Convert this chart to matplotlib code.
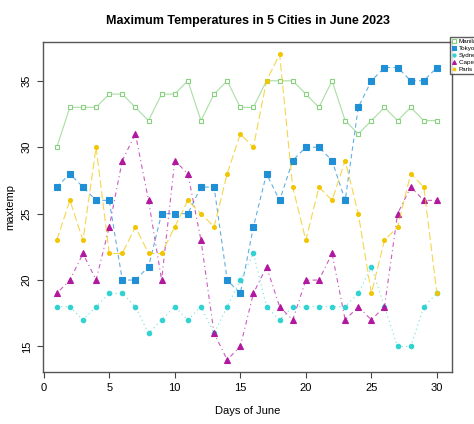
import numpy as np
import matplotlib
matplotlib.use('Agg')
import matplotlib.pyplot as plt

plt.rcParams['font.family'] = ['Liberation Sans', 'DejaVu Sans']

# data
days = list(range(1, 31))
manila = [30, 33, 33, 33, 34, 34, 33, 32, 34, 34, 35, 32, 34, 35, 33,
          33, 35, 35, 35, 34, 33, 35, 32, 31, 32, 33, 32, 33, 32, 32]
tokyo = [27, 28, 27, 26, 26, 20, 20, 21, 25, 25, 25, 27, 27, 20, 19,
         24, 28, 26, 29, 30, 30, 29, 26, 33, 35, 36, 36, 35, 35, 36]
sydney = [18, 18, 17, 18, 19, 19, 18, 16, 17, 18, 17, 18, 16, 18, 20,
          22, 18, 17, 18, 18, 18, 18, 18, 19, 21, 18, 15, 15, 18, 19]
cape = [19, 20, 22, 20, 24, 29, 31, 26, 20, 29, 28, 23, 16, 14, 15,
        19, 21, 18, 17, 20, 20, 22, 17, 18, 17, 18, 25, 27, 26, 26]
paris = [23, 26, 23, 30, 22, 22, 24, 22, 22, 24, 26, 25, 24, 28, 31,
         30, 35, 37, 27, 23, 27, 26, 29, 25, 19, 23, 24, 28, 27, 19]
cities = ["Manila", "Tokyo", "Sydney", "Cape Town", "Paris"]

series = [manila, tokyo, sydney, cape, paris]
colors = ["#86D07E", "#1F8FD6", "#30D2D2", "#B2179F", "#F2C500"]
styles = ["-", (0, (4, 3)), (0, (1, 3)), (0, (1, 3, 4, 3)), (0, (7, 3))]
markers = ["s", "s", "o", "^", "o"]
msizes = [3.4, 3.8, 3.2, 4.0, 2.8]

fig = plt.figure(figsize=(4.74, 4.24), dpi=100)
ax = fig.add_axes([43 / 474, 1 - 372 / 424, (452 - 43) / 474, (372 - 42) / 424])

for vals, c, ls, m, ms, name in zip(series, colors, styles, markers, msizes, cities):
    ax.plot(days, vals, color=c, linestyle=ls, linewidth=0.8, alpha=0.7)
    face = "white" if name == "Manila" else c
    ax.plot(days, vals, linestyle="none", marker=m, markersize=ms,
            markerfacecolor=face, markeredgecolor=c, markeredgewidth=0.8,
            label=name)

ax.set_xlim(-0.05, 31.15)
ax.set_ylim(13.08, 37.92)
ax.set_xticks([0, 5, 10, 15, 20, 25, 30])
ax.set_yticks([15, 20, 25, 30, 35])
ax.tick_params(labelsize=8, color="#444444", length=4, width=0.8, pad=4)
for lbl in ax.get_yticklabels():
    lbl.set_rotation(90)
    lbl.set_va("center")
for sp in ax.spines.values():
    sp.set_color("#555555")
    sp.set_linewidth(1.0)

ax.set_xlabel("Days of June", fontsize=8, labelpad=9)
ax.set_ylabel("maxtemp", fontsize=8, labelpad=5)
ax.set_title("Maximum Temperatures in 5 Cities in June 2023",
             fontsize=9, fontweight="bold", pad=13)

fig.legend(loc="upper left", bbox_to_anchor=(450 / 474, 1 - 37 / 424),
           fontsize=4.5, frameon=True, fancybox=False, edgecolor="#333333",
           handlelength=0.6, handletextpad=0.5, borderpad=0.3,
           labelspacing=0.25, markerscale=0.7, borderaxespad=0)

fig.savefig("out.png", dpi=100)
